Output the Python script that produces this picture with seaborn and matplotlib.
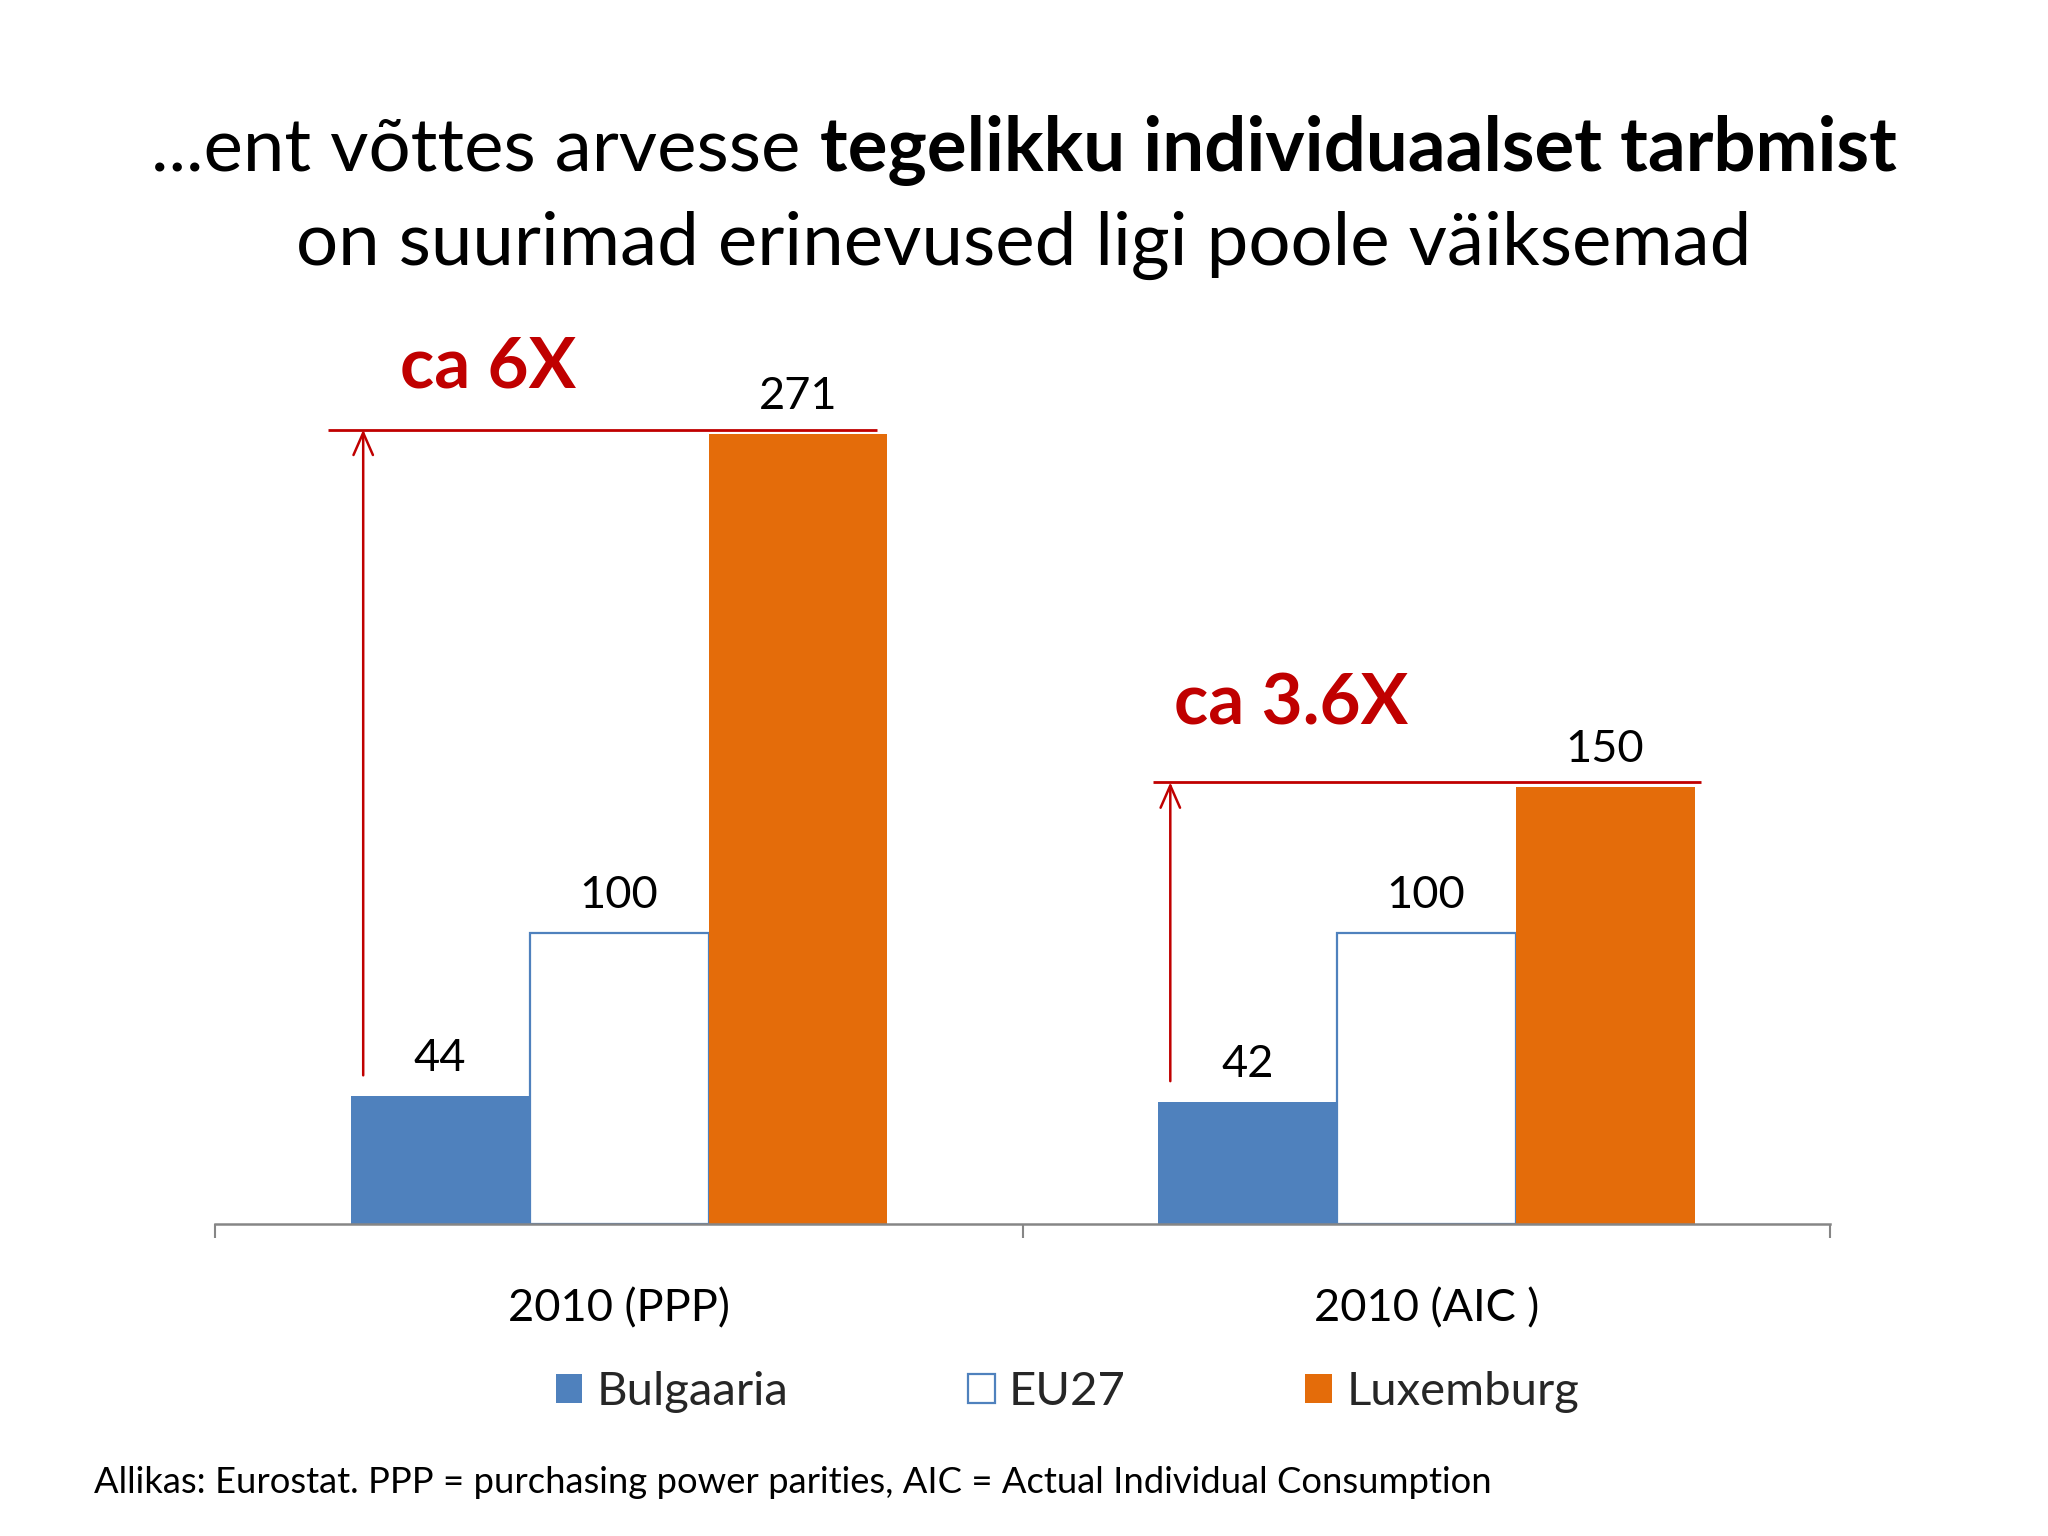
import matplotlib
matplotlib.use("Agg")
import matplotlib.pyplot as plt
import pandas as pd
import seaborn as sns

periods = ["2010 (PPP)", "2010 (AIC )"]
countries = ["Bulgaaria", "EU27", "Luxemburg"]
bulgaria = [44, 42]
eu27 = [100, 100]
luxembourg = [271, 150]
multiples = ["ca 6X", "ca 3.6X"]

title_1 = [("...ent võttes arvesse", "normal"), ("tegelikku individuaalset tarbmist", "bold")]
title_2 = "on suurimad erinevused ligi poole väiksemad"
source = ("Allikas: Eurostat. PPP = purchasing power parities, "
          "AIC = Actual Individual Consumption")

BLUE = "#4F81BD"
ORANGE = "#E46C0A"
RED = "#C00000"

sns.set_theme(style="white")
plt.rcParams["font.family"] = ["Lato", "DejaVu Sans"]

df = pd.DataFrame({
    "period": periods * 3,
    "country": [c for c in countries for _ in periods],
    "value": bulgaria + eu27 + luxembourg,
})

fig = plt.figure(figsize=(20.48, 15.36), dpi=100)
ax = fig.add_axes([215.5 / 2048, 1 - 1224 / 1536,
                   (1829.7 - 215.5) / 2048, 874.5 / 1536])

sns.barplot(data=df, x="period", y="value", hue="country",
            order=periods, hue_order=countries,
            palette=[BLUE, "white", ORANGE], saturation=1,
            width=0.665, legend=False, ax=ax, linewidth=0)

# EU27 bars: white with a thin blue outline
for p in ax.containers[1].patches:
    p.set_edgecolor(BLUE)
    p.set_linewidth(1.6)

for cont in ax.containers:
    for p in cont.patches:
        ax.annotate(f"{p.get_height():.0f}",
                    (p.get_x() + p.get_width() / 2, p.get_height()),
                    xytext=(0, 18), textcoords="offset points",
                    ha="center", va="baseline", fontsize=32.5, color="black")

ax.set_xlim(-0.5, 1.5)
ax.set_ylim(0, 300)
ax.set_xlabel("")
ax.set_ylabel("")
ax.set_yticks([])
ax.set_xticks([-0.5, 0.5, 1.5], minor=True)
ax.tick_params(axis="x", which="major", length=0, pad=46, labelsize=32.5,
               labelcolor="black")
ax.tick_params(axis="x", which="minor", length=10, width=1.5,
               color="#868686", direction="out", bottom=True)
for s in ["left", "right", "top"]:
    ax.spines[s].set_visible(False)
ax.spines["bottom"].set_color("#868686")
ax.spines["bottom"].set_linewidth(1.8)

# red "ca NX" annotations with arrow from Bulgaria up to Luxembourg level
lux_bars = ax.containers[2].patches
bg_bars = ax.containers[0].patches
text_dx = [-0.271, -0.312]
text_y = [286.8, 171.2]
line_span = [(-0.36, 0.32), (-0.338, 0.34)]
for i, (lb, bb) in enumerate(zip(lux_bars, bg_bars)):
    cx = i
    top = lb.get_height() + 1.5
    x0, x1 = line_span[i]
    ax.plot([cx + x0, cx + x1], [top, top], color=RED, lw=2,
            solid_capstyle="butt")
    ax.annotate("", xy=(cx - 0.317, top), xytext=(cx - 0.317, bb.get_height() + 7),
                arrowprops=dict(arrowstyle="->,head_length=0.8,head_width=0.35",
                                color=RED, lw=1.8, shrinkA=0, shrinkB=0,
                                mutation_scale=20))
    ax.text(cx + text_dx[i], text_y[i], multiples[i], color=RED,
            fontsize=51, fontweight="bold", ha="left", va="baseline")

leg = ax.legend(ax.containers, countries, ncol=3, loc="center",
                bbox_to_anchor=(0.5212, 0.0938), bbox_transform=fig.transFigure,
                frameon=False, fontsize=34, handlelength=0.57, handleheight=0.57,
                handletextpad=0.3, columnspacing=3.8)

# title, first line has a bold tail
r = fig.canvas.get_renderer()
tsize = 53.6
pieces = [fig.text(0, 0.8887, s, fontsize=tsize, fontweight=w,
                   ha="left", va="baseline", color="black") for s, w in title_1]
gap = (fig.text(0, 0, "x x", fontsize=tsize).get_window_extent(r).width
       - fig.text(0, 0, "xx", fontsize=tsize).get_window_extent(r).width)
for t in fig.texts[-2:]:
    t.remove()
widths = [t.get_window_extent(r).width for t in pieces]
x = (fig.bbox.width - sum(widths) - gap) / 2
for t, w in zip(pieces, widths):
    t.set_x(x / fig.bbox.width)
    x += w + gap
fig.text(0.5, 0.8275, title_2, fontsize=tsize, ha="center", va="baseline",
         color="black")

fig.text(0.0459, 0.028, source, fontsize=26.2, ha="left", va="baseline",
         color="black")

fig.savefig("out.png", dpi=100, facecolor="white")
